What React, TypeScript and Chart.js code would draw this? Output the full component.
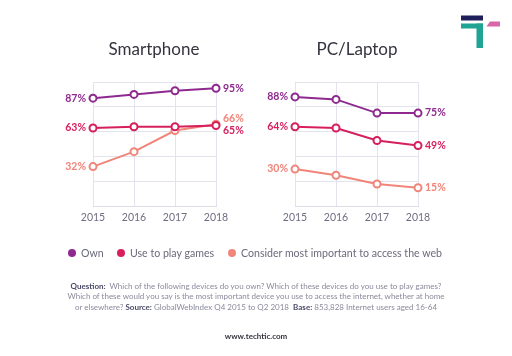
import React, { useEffect, useRef } from "react";
import { Chart, registerables } from "chart.js";

Chart.register(...registerables);

const years = ["2015", "2016", "2017", "2018"];
const seriesNames = ["Own", "Use to play games", "Consider most important to access the web"];
const seriesColors = ["#8e2a8f", "#d61f5c", "#f0857a"];

const smartphoneOwn = [87, 90, 93, 95];
const smartphoneGames = [63, 64, 64, 65];
const smartphoneWeb = [32, 44, 61, 66];

const laptopOwn = [88, 86, 75, 75];
const laptopGames = [64, 63, 53, 49];
const laptopWeb = [30, 25, 18, 15];

const panelTitles = ["Smartphone", "PC/Laptop"];

const endLabelPlugin = {
  id: "endLabels",
  afterDatasetsDraw(chart: any) {
    const ctx = chart.ctx;
    ctx.save();
    ctx.font = "bold 10.5px Lato";
    ctx.textBaseline = "middle";
    const lastYs: { y: number; i: number }[] = [];
    chart.data.datasets.forEach((ds: any, i: number) => {
      const meta = chart.getDatasetMeta(i);
      lastYs.push({ y: meta.data[meta.data.length - 1].y, i });
    });
    // push apart colliding end labels
    const adj: Record<number, number> = {};
    const sorted = [...lastYs].sort((a, b) => a.y - b.y);
    for (let k = 0; k < sorted.length - 1; k++) {
      const a = sorted[k], b = sorted[k + 1];
      if (b.y - a.y < 11) {
        const mid = (a.y + b.y) / 2;
        adj[a.i] = mid - 6 - a.y;
        adj[b.i] = mid + 6 - b.y;
      }
    }
    chart.data.datasets.forEach((ds: any, i: number) => {
      const meta = chart.getDatasetMeta(i);
      const first = meta.data[0];
      const last = meta.data[meta.data.length - 1];
      ctx.fillStyle = ds.borderColor;
      ctx.textAlign = "right";
      ctx.fillText(ds.data[0] + "%", first.x - 7, first.y);
      ctx.textAlign = "left";
      ctx.fillText(ds.data[ds.data.length - 1] + "%", last.x + 7, last.y + (adj[i] || 0));
    });
    ctx.restore();
  },
};

function Panel({ data, padLeft, padRight }: { data: number[][]; padLeft: number; padRight: number }) {
  const ref = useRef<HTMLCanvasElement>(null);
  useEffect(() => {
    const chart = new Chart(ref.current!, {
      type: "line",
      data: {
        labels: years,
        datasets: data.map((d, i) => ({
          label: seriesNames[i],
          data: d,
          borderColor: seriesColors[i],
          backgroundColor: "#ffffff",
          pointBackgroundColor: "#ffffff",
          pointBorderColor: seriesColors[i],
          pointBorderWidth: 2,
          pointRadius: 3.5,
          borderWidth: 2,
          tension: 0,
        })),
      },
      options: {
        animation: false,
        responsive: false,
        layout: { padding: { left: padLeft, right: padRight, top: 82, bottom: 127 } },
        plugins: { legend: { display: false }, tooltip: { enabled: false } },
        scales: {
          x: {
            offset: false,
            grid: { color: "#e2e3ec", drawTicks: false, lineWidth: 1 },
            border: { color: "#dcdde6" },
            ticks: { color: "#6e6e82", font: { family: "Lato", size: 10.5 }, padding: 5 },
          },
          y: {
            min: 0,
            max: 100,
            grid: { color: "#e2e3ec", drawTicks: false },
            border: { display: false },
            ticks: { display: false, stepSize: 20 },
          },
        },
      },
      plugins: [endLabelPlugin],
    });
    return () => chart.destroy();
  }, []);
  return <canvas ref={ref} width={256} height={356} style={{ width: 256, height: 356 }} />;
}

export default function App() {
  const abs = (s: React.CSSProperties): React.CSSProperties => ({ position: "absolute", ...s });
  const legendItem = (i: number, x: number) => (
    <div key={i} style={abs({ left: x - 4, top: 247, display: "flex", alignItems: "center", whiteSpace: "nowrap" })}>
      <span style={{ width: 8, height: 8, borderRadius: 4, background: seriesColors[i], display: "inline-block", marginRight: 5 }} />
      <span style={{ fontSize: 10.6, color: "#6a6a7c", lineHeight: "12px" }}>{seriesNames[i]}</span>
    </div>
  );
  const b = (t: string) => <b style={{ color: "#4a4a68" }}>{t}</b>;
  return (
    <div style={{ position: "fixed", left: 0, top: 0, width: 512, height: 356, background: "#ffffff", fontFamily: "Lato", overflow: "hidden" }}>
      <div style={abs({ left: 0, top: 0 })}>
        <Panel data={[smartphoneOwn, smartphoneGames, smartphoneWeb]} padLeft={93} padRight={40} />
      </div>
      <div style={abs({ left: 256, top: 0 })}>
        <Panel data={[laptopOwn, laptopGames, laptopWeb]} padLeft={39} padRight={94} />
      </div>
      <div style={abs({ left: 54, width: 200, top: 38, textAlign: "center", fontSize: 17, color: "#34343f" })}>{panelTitles[0]}</div>
      <div style={abs({ left: 257, width: 200, top: 38, textAlign: "center", fontSize: 17, color: "#34343f" })}>{panelTitles[1]}</div>
      {legendItem(0, 72)}
      {legendItem(1, 121)}
      {legendItem(2, 232)}
      <div style={abs({ left: 0, width: 512, top: 281, textAlign: "center", fontSize: 8, lineHeight: "10.3px", color: "#8a8a9c" })}>
        {b("Question:")}&nbsp; Which of the following devices do you own? Which of these devices do you use to play games?
        <br />
        Which of these would you say is the most important device you use to access the internet, whether at home
        <br />
        or elsewhere? {b("Source:")} GlobalWebIndex Q4 2015 to Q2 2018&nbsp; {b("Base:")} 853,828 Internet users aged 16-64
      </div>
      <div style={abs({ left: 0, width: 512, top: 331, textAlign: "center", fontSize: 8, fontWeight: "bold", color: "#33333d" })}>www.techtic.com</div>
      <svg style={abs({ left: 455, top: 10 })} width={50} height={45}>
        <rect x={6} y={5.5} width={22} height={5} fill="#1f1f5c" />
        <rect x={6} y={13.5} width={22} height={5} fill="#1fa393" />
        <rect x={21.5} y={13.5} width={6.5} height={24.5} fill="#1fa393" />
        <polygon points="31.5,16.5 35,11.5 45,11.5 45,16.5" fill="#d966a8" />
      </svg>
    </div>
  );
}
